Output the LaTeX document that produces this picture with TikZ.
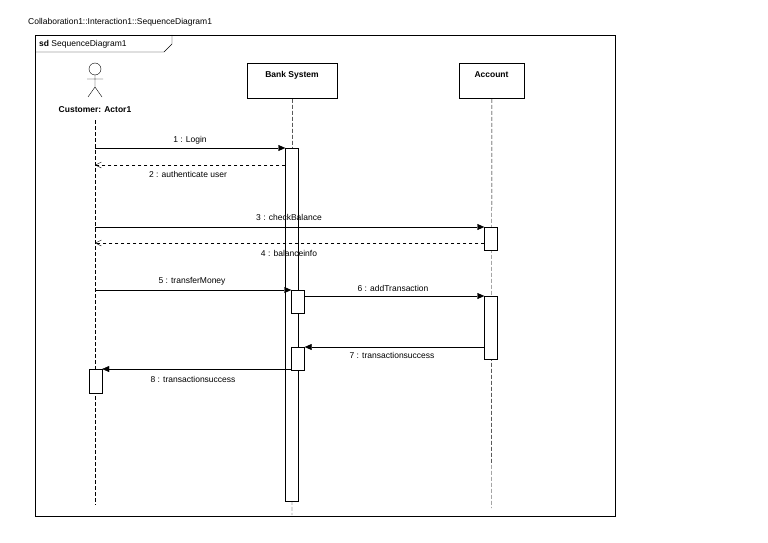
\documentclass[tikz,border=0pt]{standalone}
\usepackage{fontspec}
\setmainfont{Liberation Sans}
\usetikzlibrary{arrows.meta}
\begin{document}
\begin{tikzpicture}[x=1pt,y=-1pt,font=\fontsize{8.5}{10}\selectfont,
  obj/.style={draw,thick,fill=white,anchor=north west,inner sep=0pt},
  bt/.style={font=\fontsize{8.5}{10}\selectfont\bfseries},
  act/.style={draw,fill=white,minimum width=13pt,inner sep=0pt,anchor=north},
  life/.style={dash pattern=on 4pt off 2pt},
  msg/.style={-{Triangle[length=7pt,width=6pt]}},
  ret/.style={dashed,-{Straight Barb[length=6pt,width=6pt]}},
  lbl/.style={inner sep=1pt}]
\useasboundingbox (0,0) rectangle (768,543);
\node[anchor=west,inner sep=0pt] (title) at (28,22) {Collaboration1::Interaction1::SequenceDiagram1};
\node[draw,minimum width=580pt,minimum height=481pt,anchor=north west,inner sep=0pt] (frame) at (35,35) {};
\draw (35,52) -- (164,52) -- (172,44) -- (172,35);
\node[anchor=west,inner sep=0pt] (sd) at (39,44) {\textbf{sd} SequenceDiagram1};
% actor
\draw (95,69) circle (6);
\draw (95,75) -- (95,87) (87,79) -- (103,79) (88,97) -- (95,87) -- (102,97);
\node[bt] (cust) at (95,110) {Customer: Actor1};
\coordinate (ct) at (95,120); \coordinate (cb) at (95,505);
\draw[life] (ct) -- (cb);
\node[obj,minimum width=90pt,minimum height=35pt] (bank) at (247,63) {};
\node[bt] at (292,75) {Bank System};
\node[obj,minimum width=65pt,minimum height=35pt] (acc) at (459,63) {};
\node[bt] at (491.5,75) {Account};
\coordinate (bb) at (292,515); \coordinate (ab) at (491.5,508);
\draw[life] (bank.south) -- (bb);
\draw[life] (acc.south) -- (ab);
% activations
\node[act,minimum height=353pt] (ba) at (292,148) {};
\node[act,minimum height=23pt] (aa1) at (491,227) {};
\node[act,minimum height=23pt] (bs1) at (298,290) {};
\node[act,minimum height=63pt] (aa2) at (491,296) {};
\node[act,minimum height=23pt] (bs2) at (298,347) {};
\node[act,minimum height=24pt] (ca) at (95.5,369) {};
% messages
\coordinate (c1) at (95,148); \draw[msg] (c1) -- (ba.north west);
\node[lbl] at (190,140) {1 : Login};
\coordinate (c2) at (95,165); \draw[ret] (ba.west |- 0,165) -- (c2);
\node[lbl] at (188,174) {2 : authenticate user};
\coordinate (c3) at (95,227); \draw[msg] (c3) -- (aa1.north west);
\node[lbl] at (289,217) {3 : checkBalance};
\coordinate (c4) at (95,243); \draw[ret] (aa1.west |- 0,243) -- (c4);
\node[lbl] at (289,253) {4 : balanceinfo};
\coordinate (c5) at (95,290); \draw[msg] (c5) -- (bs1.north west);
\node[lbl] at (192,281) {5 : transferMoney};
\draw[msg] (bs1.east |- 0,296) -- (aa2.north west);
\node[lbl] at (393,288) {6 : addTransaction};
\draw[msg] (aa2.west |- 0,347) -- (bs2.north east);
\node[lbl] at (392,355) {7 : transactionsuccess};
\draw[msg] (bs2.west |- 0,369) -- (ca.north east);
\node[lbl] at (193,379) {8 : transactionsuccess};
\end{tikzpicture}
\end{document}
